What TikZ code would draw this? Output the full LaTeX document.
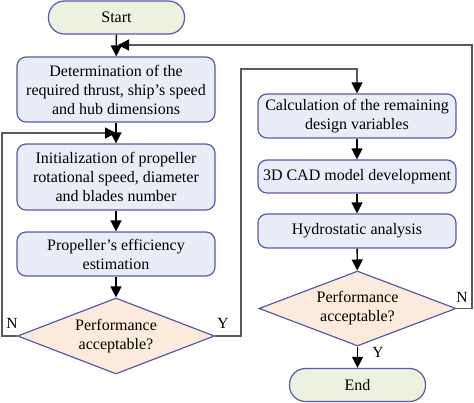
\documentclass[tikz,border=0pt]{standalone}
\usepackage{fontspec}
\setmainfont{Liberation Serif}
\usetikzlibrary{shapes.geometric,arrows.meta}
\definecolor{bordc}{HTML}{5A5AA6}
\definecolor{boxfill}{HTML}{E9EDF8}
\definecolor{termfill}{HTML}{EDF2E0}
\definecolor{decfill}{HTML}{FCEBDD}
\definecolor{loopc}{HTML}{5A5A5A}
\begin{document}
\begin{tikzpicture}[x=1pt,y=-1pt,
  every node/.style={font=\fontsize{16}{19}\selectfont, align=center, inner sep=0pt},
  procbox/.style={draw=bordc, line width=1.2pt, fill=boxfill, rounded corners=9pt, minimum width=198pt},
  termbox/.style={draw=bordc, line width=1.2pt, fill=termfill, rounded corners=16pt, minimum width=136pt, minimum height=33pt},
  decbox/.style={diamond, aspect=2.6, inner sep=-6pt, draw=bordc, line width=1.2pt, fill=decfill, minimum width=197pt, minimum height=76pt},
  arr/.style={line width=1.3pt, -{Triangle[width=11pt,length=11pt,color=black]}},
  loopline/.style={draw=loopc, line width=1.5pt},
  lbl/.style={font=\fontsize{15.5}{17}\selectfont}
]
\useasboundingbox (0,0) rectangle (474,403);
\node[termbox] (start) at (116.5,17.5) {Start};
\node[procbox, minimum height=65pt] (b1) at (116,89.5) {Determination of the\\required thrust, ship's speed\\and hub dimensions};
\node[procbox, minimum height=66pt] (b2) at (116,177) {Initialization of propeller\\rotational speed, diameter\\and blades number};
\node[procbox, minimum height=44pt] (b3) at (116,254) {Propeller's efficiency\\estimation};
\node[decbox] (d1) at (116,336) {Performance\\acceptable?};
\node[procbox, minimum height=44pt] (b4) at (357,116) {Calculation of the remaining\\design variables};
\node[procbox, minimum height=33pt] (b5) at (357,176.5) {3D CAD model development};
\node[procbox, minimum height=34pt] (b6) at (357,231) {Hydrostatic analysis};
\node[decbox, minimum height=75pt] (d2) at (357.5,308.5) {Performance\\acceptable?};
\node[termbox] (end) at (357.5,385) {End};

\coordinate (j1) at (118,45);
\coordinate (j2) at (116,133);
\coordinate (j3) at (357,69);

\draw[arr] (start) -- (b1);
\draw[arr] (b1) -- (b2);
\draw[arr] (b2) -- (b3);
\draw[arr] (b3) -- (d1);
\draw[arr] (b4) -- (b5);
\draw[arr] (b5) -- (b6);
\draw[arr] (b6) -- (d2);
\draw[arr] (d2) -- (end);

\draw[loopline, arr, draw=loopc] (d2.east) -- (472,308.5) -- (472,45) -- (j1);
\draw[loopline, arr, draw=loopc] (d1.west) -- (2,336) -- (2,133) -- (j2);
\draw[loopline, arr, draw=loopc] (d1.east) -- (241,336) -- (241,69) -- (j3) -- (b4.north);

\node[lbl] (n1) at (12,323) {N};
\node[lbl] (y1) at (223,323) {Y};
\node[lbl] (n2) at (462,297) {N};
\node[lbl] (y2) at (378,352) {Y};
\end{tikzpicture}
\end{document}
